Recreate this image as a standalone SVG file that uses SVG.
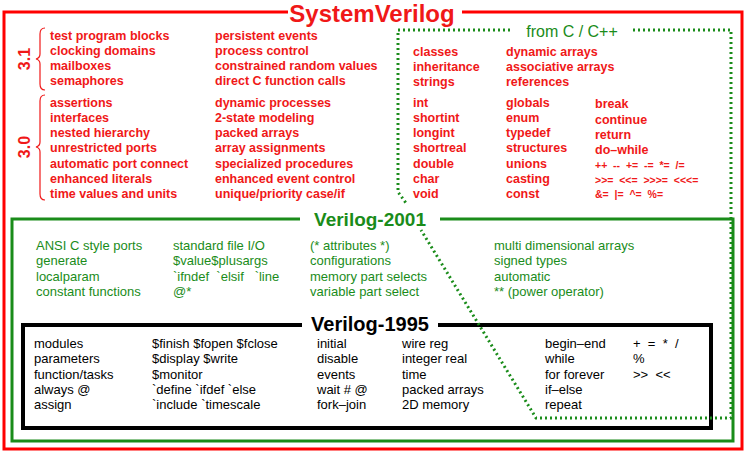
<svg xmlns="http://www.w3.org/2000/svg" width="745" height="452" viewBox="0 0 745 452">
<style>
text{font-family:"Liberation Sans",Arial,sans-serif;font-weight:bold;font-size:12.5px}
.r{fill:#f01818}.g{fill:#1a8c1a}.k{fill:#000;font-weight:normal;font-size:13px}
.gt{font-weight:normal;font-size:13px}
.rt{font-size:24px}.bt{font-size:21px}
</style>
<rect width="745" height="452" fill="#fff"/>
<g id="connectors">
<path d="M288 12 H4 V449 H742 V12 H462" fill="none" stroke="#ff0000" stroke-width="3"/>
<path d="M300 219 H12 V441 H733 V219 H440" fill="none" stroke="#1a8c1a" stroke-width="3"/>
<path d="M302 325 H23 V428 H711 V325 H438" fill="none" stroke="#000" stroke-width="4"/>
<path d="M510 30 H398 V192 L406 203 M633 30 H731 V418 H536 L421 230" fill="none" stroke="#1a8c1a" stroke-width="3" stroke-dasharray="2 3"/>
<path d="M45 28 Q40 28 40 34 V54 Q40 58 36 59 Q40 60 40 64 V84 Q40 90 45 90" fill="none" stroke="#f01818" stroke-width="1.2"/>
<path d="M45 95 Q40 95 40 101 V142 Q40 146 36 147 Q40 148 40 152 V194 Q40 200 45 200" fill="none" stroke="#f01818" stroke-width="1.2"/>
</g>
<g id="systemverilog">
<text class="r rt" x="372" y="22" text-anchor="middle">SystemVerilog</text>
<text class="r" font-size="16" transform="translate(30,59) rotate(-90)" text-anchor="middle" style="font-size:16px">3.1</text>
<text class="r" transform="translate(30,147) rotate(-90)" text-anchor="middle" style="font-size:16px">3.0</text>
<text class="r" x="50" y="40">test program blocks</text>
<text class="r" x="50" y="55">clocking domains</text>
<text class="r" x="50" y="70">mailboxes</text>
<text class="r" x="50" y="85">semaphores</text>
<text class="r" x="215" y="40">persistent events</text>
<text class="r" x="215" y="55">process control</text>
<text class="r" x="215" y="70">constrained random values</text>
<text class="r" x="215" y="85">direct C function calls</text>
<text class="r" x="50" y="107">assertions</text>
<text class="r" x="50" y="122">interfaces</text>
<text class="r" x="50" y="137">nested hierarchy</text>
<text class="r" x="50" y="152">unrestricted ports</text>
<text class="r" x="50" y="168">automatic port connect</text>
<text class="r" x="50" y="183">enhanced literals</text>
<text class="r" x="50" y="198">time values and units</text>
<text class="r" x="215" y="107">dynamic processes</text>
<text class="r" x="215" y="122">2-state modeling</text>
<text class="r" x="215" y="137">packed arrays</text>
<text class="r" x="215" y="152">array assignments</text>
<text class="r" x="215" y="168">specialized procedures</text>
<text class="r" x="215" y="183">enhanced event control</text>
<text class="r" x="215" y="198">unique/priority case/if</text>
</g>
<g id="fromc">
<text class="g" x="572" y="37" text-anchor="middle" style="font-weight:normal;font-size:16px">from C / C++</text>
<text class="r" x="413" y="56">classes</text>
<text class="r" x="413" y="71">inheritance</text>
<text class="r" x="413" y="86">strings</text>
<text class="r" x="506" y="56">dynamic arrays</text>
<text class="r" x="506" y="71">associative arrays</text>
<text class="r" x="506" y="86">references</text>
<text class="r" x="413" y="107">int</text>
<text class="r" x="413" y="122">shortint</text>
<text class="r" x="413" y="137">longint</text>
<text class="r" x="413" y="152">shortreal</text>
<text class="r" x="413" y="168">double</text>
<text class="r" x="413" y="183">char</text>
<text class="r" x="413" y="198">void</text>
<text class="r" x="506" y="107">globals</text>
<text class="r" x="506" y="122">enum</text>
<text class="r" x="506" y="137">typedef</text>
<text class="r" x="506" y="152">structures</text>
<text class="r" x="506" y="168">unions</text>
<text class="r" x="506" y="183">casting</text>
<text class="r" x="506" y="198">const</text>
<text class="r" x="595" y="108">break</text>
<text class="r" x="595" y="124">continue</text>
<text class="r" x="595" y="139">return</text>
<text class="r" x="595" y="154">do–while</text>
<text class="r" x="595" y="169" style="font-size:10.5px" xml:space="preserve">++  --  +=  -=  *=  /=</text>
<text class="r" x="595" y="184" style="font-size:10.5px" xml:space="preserve">&gt;&gt;=  &lt;&lt;=  &gt;&gt;&gt;=  &lt;&lt;&lt;=</text>
<text class="r" x="595" y="198" style="font-size:10.5px" xml:space="preserve">&amp;=  |=  ^=  %=</text>
</g>
<g id="verilog2001">
<text class="g" x="370" y="226" text-anchor="middle" style="font-size:19px">Verilog-2001</text>
<text class="g gt" x="36" y="250">ANSI C style ports</text>
<text class="g gt" x="36" y="265">generate</text>
<text class="g gt" x="36" y="281">localparam</text>
<text class="g gt" x="36" y="296">constant functions</text>
<text class="g gt" x="173" y="250">standard file I/O</text>
<text class="g gt" x="173" y="265">$value$plusargs</text>
<text class="g gt" x="173" y="281" xml:space="preserve">`ifndef  `elsif   `line</text>
<text class="g gt" x="173" y="296">@*</text>
<text class="g gt" x="310" y="250">(* attributes *)</text>
<text class="g gt" x="310" y="265">configurations</text>
<text class="g gt" x="310" y="281">memory part selects</text>
<text class="g gt" x="310" y="296">variable part select</text>
<text class="g gt" x="494" y="250">multi dimensional arrays</text>
<text class="g gt" x="494" y="265">signed types</text>
<text class="g gt" x="494" y="281">automatic</text>
<text class="g gt" x="494" y="296">** (power operator)</text>
</g>
<g id="verilog1995">
<text x="370" y="331" text-anchor="middle" style="font-size:20px">Verilog-1995</text>
<text class="k" x="34" y="348">modules</text>
<text class="k" x="34" y="363">parameters</text>
<text class="k" x="34" y="379">function/tasks</text>
<text class="k" x="34" y="394">always @</text>
<text class="k" x="34" y="409">assign</text>
<text class="k" x="152" y="348">$finish $fopen $fclose</text>
<text class="k" x="152" y="363">$display $write</text>
<text class="k" x="152" y="379">$monitor</text>
<text class="k" x="152" y="394">`define `ifdef `else</text>
<text class="k" x="152" y="409">`include `timescale</text>
<text class="k" x="317" y="348">initial</text>
<text class="k" x="317" y="363">disable</text>
<text class="k" x="317" y="379">events</text>
<text class="k" x="317" y="394">wait # @</text>
<text class="k" x="317" y="409">fork–join</text>
<text class="k" x="402" y="348">wire reg</text>
<text class="k" x="402" y="363">integer real</text>
<text class="k" x="402" y="379">time</text>
<text class="k" x="402" y="394">packed arrays</text>
<text class="k" x="402" y="409">2D memory</text>
<text class="k" x="545" y="348">begin–end</text>
<text class="k" x="545" y="363">while</text>
<text class="k" x="545" y="379">for forever</text>
<text class="k" x="545" y="394">if–else</text>
<text class="k" x="545" y="409">repeat</text>
<text class="k" x="633" y="348" xml:space="preserve">+  =  *  /</text>
<text class="k" x="633" y="363">%</text>
<text class="k" x="633" y="379" xml:space="preserve">&gt;&gt;  &lt;&lt;</text>
</g>
</svg>
